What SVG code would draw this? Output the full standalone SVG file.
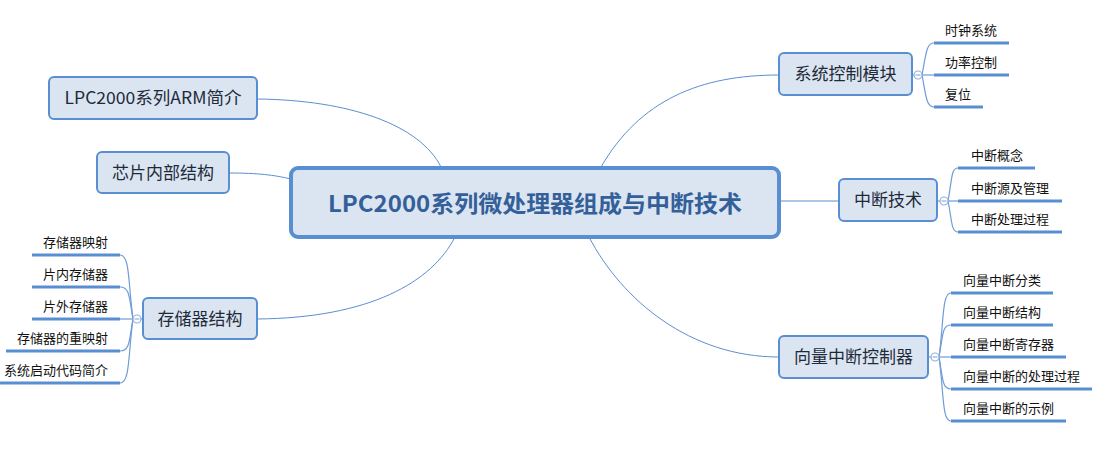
<svg xmlns="http://www.w3.org/2000/svg" width="1098" height="453" viewBox="0 0 1098 453">
<style>
.bg{fill:#ffffff}
.node{fill:#dbe5f1;stroke:#5a8ed2;stroke-width:2}
.root{fill:#dbe5f1;stroke:#5a8ed2;stroke-width:4}
.nt{font-family:"Noto Sans CJK SC","Microsoft YaHei",sans-serif;font-size:17px;fill:#1e2a3a;text-anchor:middle}
.rt{font-family:"Noto Sans CJK SC","Microsoft YaHei",sans-serif;font-size:23px;font-weight:bold;fill:#34609a;text-anchor:middle}
.lt{font-family:"Noto Sans CJK SC","Microsoft YaHei",sans-serif;font-size:13px;fill:#111111}
.ul{stroke:#5a8ed2;stroke-width:3;fill:none}
.cn{stroke:#5a8ed2;stroke-width:1;fill:none}
.br{stroke:#6f9bd8;stroke-width:1.2;fill:none}
.tg{fill:#ffffff;stroke:#8fb1de;stroke-width:1.2}
.tm{stroke:#8fb1de;stroke-width:1.2}
</style>
<rect class="bg" x="0" y="0" width="1098" height="453"/>
<g id="connectors">
  <path class="cn" d="M257,99 C350,100 420,125 441,167"/>
  <path class="cn" d="M229,173 C258,173 274,175 291,179"/>
  <path class="cn" d="M257,319 C370,318 432,282 455,237"/>
  <path class="cn" d="M601,167 C640,100 700,75 779,75"/>
  <path class="cn" d="M780,201 H839"/>
  <path class="cn" d="M589,237 C622,300 690,357 779,357"/>
  <!-- node to toggle -->
  <path class="cn" d="M912,75 H914"/>
  <path class="cn" d="M937,201 H940"/>
  <path class="cn" d="M928,357 H931"/>
  <path class="cn" d="M143,319 H141"/>
  <!-- branches: 系统控制模块 -->
  <path class="br" d="M922,75 C926,55 926,43 934,43"/>
  <path class="br" d="M922,75 H934"/>
  <path class="br" d="M922,75 C926,95 926,107 934,107"/>
  <!-- branches: 中断技术 -->
  <path class="br" d="M948,201 C952,180 951,168 958,168"/>
  <path class="br" d="M948,201 H958"/>
  <path class="br" d="M948,201 C952,220 951,232 958,232"/>
  <!-- branches: 向量中断控制器 -->
  <path class="br" d="M939,357 C944,320 942,293 951,293"/>
  <path class="br" d="M939,357 C943,335 942,325 951,325"/>
  <path class="br" d="M939,357 H951"/>
  <path class="br" d="M939,357 C943,379 942,389 951,389"/>
  <path class="br" d="M939,357 C944,394 942,421 951,421"/>
  <!-- branches: 存储器结构 -->
  <path class="br" d="M133,319 C128,282 130,255 120,255"/>
  <path class="br" d="M133,319 C129,297 130,287 120,287"/>
  <path class="br" d="M133,319 H120"/>
  <path class="br" d="M133,319 C129,341 130,351 120,351"/>
  <path class="br" d="M133,319 C128,356 130,383 120,383"/>
</g>
<g id="root">
  <rect class="root" x="291" y="168" width="488" height="69" rx="7"/>
  <text class="rt" x="535" y="212" textLength="414" lengthAdjust="spacingAndGlyphs">LPC2000系列微处理器组成与中断技术</text>
</g>
<g id="n-arm">
  <rect class="node" x="49" y="77" width="208" height="42" rx="5"/>
  <text class="nt" x="153" y="104" textLength="177" lengthAdjust="spacingAndGlyphs">LPC2000系列ARM简介</text>
</g>
<g id="n-chip">
  <rect class="node" x="97" y="152" width="132" height="41" rx="5"/>
  <text class="nt" x="163" y="179">芯片内部结构</text>
</g>
<g id="n-mem">
  <rect class="node" x="143" y="298" width="114" height="41" rx="5"/>
  <text class="nt" x="200" y="325">存储器结构</text>
  <circle class="tg" cx="137" cy="319" r="4"/>
  <line class="tm" x1="134.5" y1="319" x2="139.5" y2="319"/>
</g>
<g id="n-sys">
  <rect class="node" x="779" y="53" width="133" height="42" rx="5"/>
  <text class="nt" x="845.5" y="80">系统控制模块</text>
  <circle class="tg" cx="918" cy="75" r="4"/>
  <line class="tm" x1="915.5" y1="75" x2="920.5" y2="75"/>
</g>
<g id="n-int">
  <rect class="node" x="839" y="179" width="98" height="42" rx="5"/>
  <text class="nt" x="888" y="206">中断技术</text>
  <circle class="tg" cx="944" cy="201" r="4"/>
  <line class="tm" x1="941.5" y1="201" x2="946.5" y2="201"/>
</g>
<g id="n-vic">
  <rect class="node" x="779" y="336" width="149" height="42" rx="5"/>
  <text class="nt" x="853.5" y="363">向量中断控制器</text>
  <circle class="tg" cx="935" cy="357" r="4"/>
  <line class="tm" x1="932.5" y1="357" x2="937.5" y2="357"/>
</g>
<g id="l-clock"><text class="lt" x="945" y="35">时钟系统</text><line class="ul" x1="934" y1="43" x2="1009" y2="43"/></g>
<g id="l-power"><text class="lt" x="945" y="67">功率控制</text><line class="ul" x1="934" y1="75" x2="1009" y2="75"/></g>
<g id="l-reset"><text class="lt" x="945" y="99">复位</text><line class="ul" x1="934" y1="107" x2="983" y2="107"/></g>
<g id="l-intc"><text class="lt" x="971" y="160">中断概念</text><line class="ul" x1="958" y1="168" x2="1035" y2="168"/></g>
<g id="l-ints"><text class="lt" x="971" y="193">中断源及管理</text><line class="ul" x1="958" y1="201" x2="1062" y2="201"/></g>
<g id="l-intp"><text class="lt" x="971" y="224">中断处理过程</text><line class="ul" x1="958" y1="232" x2="1062" y2="232"/></g>
<g id="l-v1"><text class="lt" x="963" y="285">向量中断分类</text><line class="ul" x1="951" y1="293" x2="1053" y2="293"/></g>
<g id="l-v2"><text class="lt" x="963" y="317">向量中断结构</text><line class="ul" x1="951" y1="325" x2="1053" y2="325"/></g>
<g id="l-v3"><text class="lt" x="963" y="349">向量中断寄存器</text><line class="ul" x1="951" y1="357" x2="1066" y2="357"/></g>
<g id="l-v4"><text class="lt" x="963" y="381">向量中断的处理过程</text><line class="ul" x1="951" y1="389" x2="1092" y2="389"/></g>
<g id="l-v5"><text class="lt" x="963" y="413">向量中断的示例</text><line class="ul" x1="951" y1="421" x2="1066" y2="421"/></g>
<g id="l-m1"><text class="lt" x="108" y="247" text-anchor="end">存储器映射</text><line class="ul" x1="32" y1="255" x2="120" y2="255"/></g>
<g id="l-m2"><text class="lt" x="108" y="279" text-anchor="end">片内存储器</text><line class="ul" x1="32" y1="287" x2="120" y2="287"/></g>
<g id="l-m3"><text class="lt" x="108" y="311" text-anchor="end">片外存储器</text><line class="ul" x1="32" y1="319" x2="120" y2="319"/></g>
<g id="l-m4"><text class="lt" x="108" y="343" text-anchor="end">存储器的重映射</text><line class="ul" x1="6" y1="351" x2="120" y2="351"/></g>
<g id="l-m5"><text class="lt" x="108" y="375" text-anchor="end">系统启动代码简介</text><line class="ul" x1="0" y1="383" x2="120" y2="383"/></g>
</svg>
